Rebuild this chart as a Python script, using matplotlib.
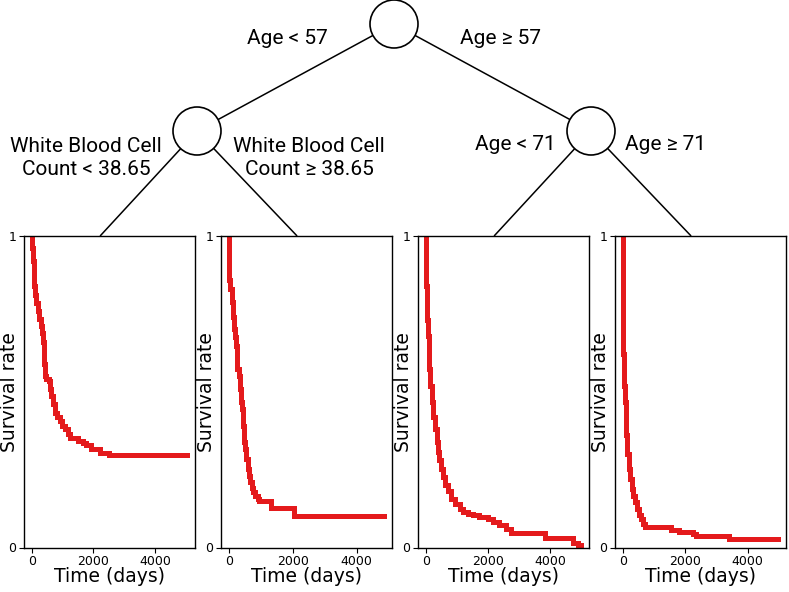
import numpy as np
import matplotlib
matplotlib.use("Agg")
import matplotlib.pyplot as plt
from matplotlib.patches import Circle

plt.rcParams["font.family"] = ["DejaVu Sans"]

# ---------------- data ----------------
split_labels_root = ["Age < 57", "Age \u2265 57"]
split_labels_left = ["White Blood Cell\nCount < 38.65", "White Blood Cell\nCount \u2265 38.65"]
split_labels_right = ["Age < 71", "Age \u2265 71"]

t1 = [0, 20, 40, 60, 85, 110, 148, 190, 233, 290, 339, 360, 382, 400, 425, 470,
      551, 590, 625, 690, 763, 830, 901, 990, 1082, 1160, 1241, 1506, 1650, 1772,
      1931, 2197, 2515, 5040]
s1 = [1.0, 0.96, 0.92, 0.88, 0.84, 0.81, 0.786, 0.76, 0.732, 0.71, 0.69, 0.66,
      0.625, 0.59, 0.55, 0.54, 0.535, 0.51, 0.486, 0.46, 0.433, 0.42, 0.406, 0.39,
      0.379, 0.365, 0.352, 0.342, 0.335, 0.328, 0.315, 0.304, 0.297, 0.297]

t2 = [0, 10, 52, 104, 135, 165, 200, 227, 250, 267, 318, 340, 369, 400, 430, 450,
      471, 490, 512, 550, 594, 630, 676, 720, 758, 820, 901, 950, 1310, 2047, 4860]
s2 = [1.0, 0.86, 0.829, 0.787, 0.74, 0.70, 0.675, 0.648, 0.61, 0.573, 0.552, 0.51,
      0.466, 0.445, 0.424, 0.39, 0.36, 0.34, 0.317, 0.285, 0.253, 0.23, 0.21, 0.19,
      0.178, 0.165, 0.157, 0.148, 0.127, 0.101, 0.101]

t3 = [0, 10, 20, 33, 50, 66, 90, 119, 150, 191, 240, 296, 350, 402, 440, 486, 550,
      613, 700, 824, 950, 1088, 1200, 1352, 1509, 1722, 1983, 2142, 2353, 2564, 2722,
      3830, 4726, 4900, 4990]
s3 = [1.0, 0.90, 0.84, 0.787, 0.73, 0.68, 0.62, 0.573, 0.52, 0.466, 0.42, 0.381,
      0.34, 0.306, 0.28, 0.253, 0.225, 0.20, 0.18, 0.157, 0.14, 0.125, 0.115, 0.109,
      0.104, 0.098, 0.091, 0.083, 0.072, 0.059, 0.046, 0.032, 0.016, 0.008, 0.008]

t4 = [0, 5, 20, 40, 55, 72, 90, 114, 150, 198, 240, 282, 330, 386, 450, 512, 580,
      648, 720, 1560, 1800, 2250, 2330, 3414, 4980]
s4 = [1.0, 0.70, 0.62, 0.573, 0.52, 0.466, 0.41, 0.36, 0.30, 0.253, 0.22, 0.189,
      0.165, 0.146, 0.125, 0.104, 0.09, 0.077, 0.065, 0.057, 0.05, 0.043, 0.038,
      0.028, 0.028]

times = [t1, t2, t3, t4]
survival = [s1, s2, s3, s4]

x_ticks = [0, 2000, 4000]
y_ticks = [0, 1]
x_label = "Time (days)"
y_label = "Survival rate"

# ---------------- figure ----------------
W, H = 789, 592
fig = plt.figure(figsize=(W / 100, H / 100), dpi=100)

# overlay axes in pixel coordinates for the tree
ov = fig.add_axes([0, 0, 1, 1])
ov.set_xlim(0, W)
ov.set_ylim(H, 0)
ov.axis("off")

red = "#e41a1c"
ax_left_px = [24, 221, 418, 615]
ax_w_px = 171
ax_top_px = 236
ax_bot_px = 547.5

for i in range(4):
    ax = fig.add_axes([ax_left_px[i] / W, (H - ax_bot_px) / H, ax_w_px / W,
                       (ax_bot_px - ax_top_px) / H])
    ax.step(times[i], survival[i], where="post", color=red, lw=3.6,
            solid_joinstyle="miter")
    ax.set_ylim(0, 1)
    ax.margins(x=0.05)
    ax.set_xticks(x_ticks)
    ax.set_yticks(y_ticks)
    ax.set_xticklabels([str(v) for v in x_ticks])
    ax.set_yticklabels([str(v) for v in y_ticks])
    ax.tick_params(labelsize=9, pad=2, length=3.5)
    ax.set_xlabel(x_label, fontsize=13.5, labelpad=-1)
    ax.set_ylabel(y_label, fontsize=13.5, labelpad=-7.5)
    for sp in ax.spines.values():
        sp.set_linewidth(1.0)

# tree nodes
r = 24
root = np.array([394.0, 24.0])
lchild = np.array([197.0, 131.0])
rchild = np.array([591.0, 131.0])
leaf_tops = [np.array([ax_left_px[i] + 0.445 * ax_w_px, ax_top_px]) for i in range(4)]


def edge(a, b, ra, rb):
    d = b - a
    u = d / np.hypot(*d)
    p0 = a + ra * u
    p1 = b - rb * u
    ov.plot([p0[0], p1[0]], [p0[1], p1[1]], color="black", lw=1.1,
            solid_capstyle="butt")


edge(root, lchild, r, r)
edge(root, rchild, r, r)
edge(lchild, leaf_tops[0], r, 0)
edge(lchild, leaf_tops[1], r, 0)
edge(rchild, leaf_tops[2], r, 0)
edge(rchild, leaf_tops[3], r, 0)

for c in (root, lchild, rchild):
    ov.add_patch(Circle(c, r, facecolor="white", edgecolor="black", lw=1.2, zorder=3))

tfont = dict(family=["Roboto", "DejaVu Sans"], fontsize=15, ha="center",
             va="center", color="black", linespacing=1.3)
ov.text(287, 38, split_labels_root[0], **tfont)
ov.text(501, 38, split_labels_root[1], **tfont)
ov.text(86, 158, split_labels_left[0], **tfont)
ov.text(309, 158, split_labels_left[1], **tfont)
ov.text(515, 145, split_labels_right[0], **tfont)
ov.text(666, 145, split_labels_right[1], **tfont)

fig.savefig("out.png", dpi=100)
